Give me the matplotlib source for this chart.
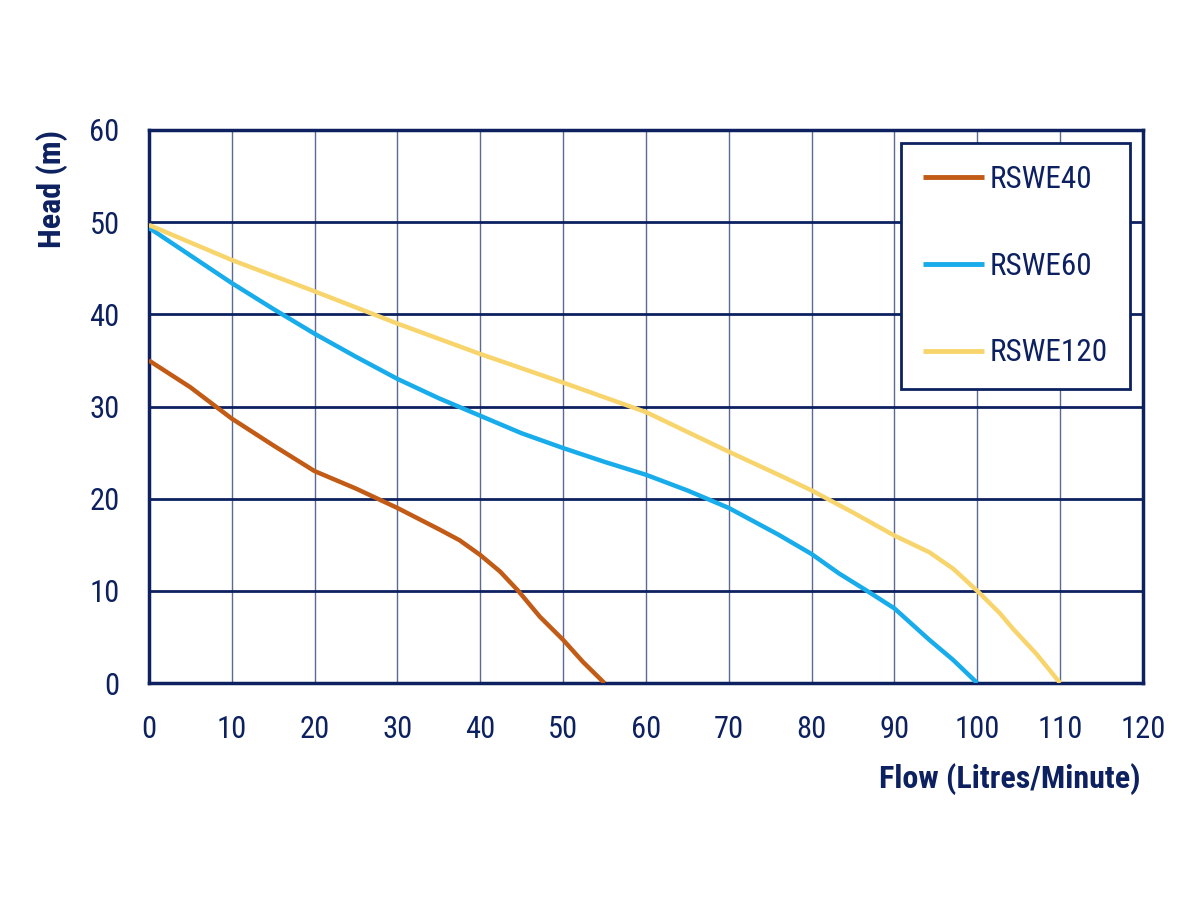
import matplotlib
matplotlib.use("Agg")
import matplotlib.pyplot as plt
from matplotlib import font_manager

NAVY = "#0d2160"
GRID_V = "#5b6a90"

flow_40 = [0, 5, 10, 15, 20, 25, 30, 35, 37.5, 40, 42.4, 44.6, 47.2, 50, 52.4, 55]
head_40 = [35.0, 32.1, 28.7, 25.8, 23.0, 21.1, 19.0, 16.7, 15.5, 13.9, 12.1, 10.0, 7.2, 4.7, 2.3, 0]

flow_60 = [0, 5, 10, 15, 20, 25, 30, 35, 40, 45, 50, 55, 60, 65, 70, 76, 80, 83.3, 86.7, 90, 94.2, 97.1, 100]
head_60 = [49.4, 46.4, 43.4, 40.6, 37.9, 35.4, 33.0, 30.9, 29.0, 27.1, 25.5, 24.0, 22.6, 20.9, 19.0, 16.1,
           14.0, 11.9, 10.0, 8.1, 4.7, 2.5, 0]

flow_120 = [0, 10, 20, 30, 40, 50, 60, 70, 76, 80, 85, 90, 94.2, 97.1, 100, 102.7, 104.3, 107.1, 110]
head_120 = [49.7, 45.9, 42.5, 39.0, 35.7, 32.6, 29.4, 25.1, 22.6, 20.9, 18.5, 16.0, 14.2, 12.4, 10.0, 7.6,
            5.9, 3.2, 0]

series = [
    ("RSWE40", flow_40, head_40, "#c15b16"),
    ("RSWE60", flow_60, head_60, "#18acea"),
    ("RSWE120", flow_120, head_120, "#f8d56c"),
]

x_ticks = list(range(0, 121, 10))
y_ticks = list(range(0, 61, 10))

# pick a condensed face if one is installed
fonts = font_manager.fontManager.ttflist
names = {f.name for f in fonts}
family = "DejaVu Sans"
for cand in ["Roboto Condensed", "Liberation Sans Narrow", "Open Sans Condensed", "DejaVu Sans Condensed"]:
    if cand in names:
        family = cand
        break
plt.rcParams["font.family"] = [family, "DejaVu Sans"]

fig = plt.figure(figsize=(12, 9), dpi=100)
ax = fig.add_axes([0.124, 0.241, 0.8285, 0.6146])

for x in x_ticks[1:-1]:
    ax.axvline(x, color=GRID_V, lw=1.0, zorder=1)
for y in y_ticks[1:-1]:
    ax.axhline(y, color=NAVY, lw=2.0, zorder=1)

for label, fx, hy, color in series:
    ax.plot(fx, hy, color=color, lw=3.2, label=label, zorder=3,
            solid_capstyle="butt", solid_joinstyle="round")

ax.set_xlim(0, 120)
ax.set_ylim(0, 60)
ax.set_xticks(x_ticks)
ax.set_yticks(y_ticks)
for s in ax.spines.values():
    s.set_color(NAVY)
    s.set_linewidth(2.5)
ax.tick_params(length=0, colors=NAVY, labelsize=22, pad=23)
ax.tick_params(axis="y", pad=21)

ax.set_ylabel("Head (m)", fontsize=23, fontweight="bold", color=NAVY)
ax.yaxis.set_label_coords(-0.081, 1.0)
ax.yaxis.label.set_horizontalalignment("right")
ax.set_xlabel("Flow (Litres/Minute)", fontsize=23, fontweight="bold", color=NAVY)
ax.xaxis.set_label_coords(0.997, -0.145)
ax.xaxis.label.set_horizontalalignment("right")

leg = ax.legend(loc="upper right", bbox_to_anchor=(0.987, 0.9765), frameon=True,
                fancybox=False, framealpha=1, labelcolor=NAVY,
                prop={"size": 22.5},
                handlelength=1.95, handletextpad=0.2, labelspacing=1.85,
                borderpad=0.7, borderaxespad=0)
leg.get_frame().set_edgecolor(NAVY)
leg.get_frame().set_linewidth(2.0)
for line in leg.get_lines():
    line.set_linewidth(3.5)
leg.set_zorder(5)

fig.savefig("out.png", dpi=100, facecolor="white")
